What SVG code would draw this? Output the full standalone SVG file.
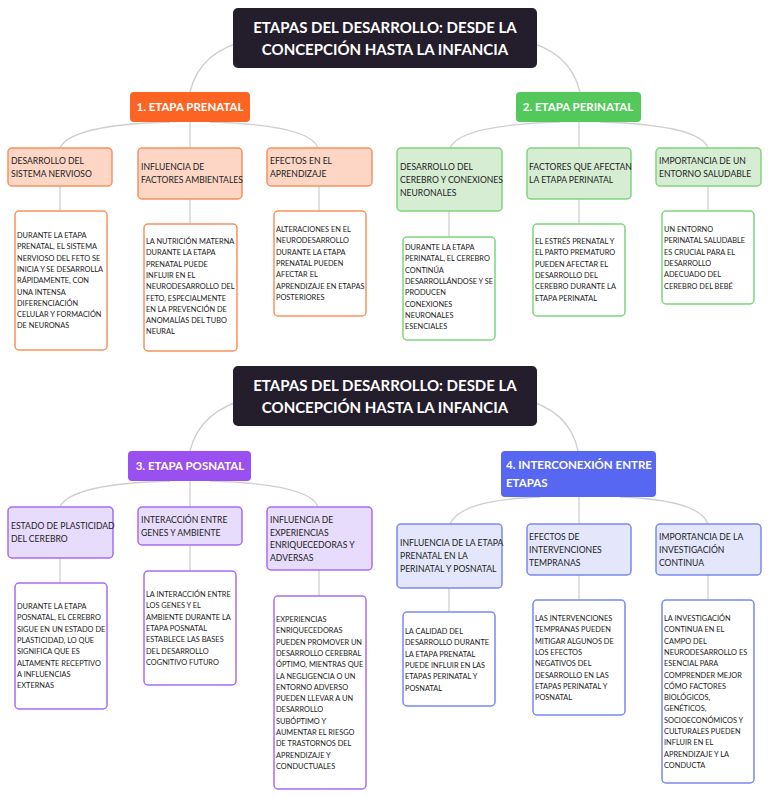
<svg xmlns="http://www.w3.org/2000/svg" width="768" height="797" viewBox="0 0 768 797">
<style>
text{font-family:Lato,"Noto Sans","Liberation Sans",sans-serif;fill:#222}
.t{font-size:15px;font-weight:bold;fill:#fff;text-anchor:middle}
.s{font-size:11.5px;font-weight:bold;fill:#fff}
.c{font-size:8.6px}
.d{font-size:7.4px}
.ln{fill:none;stroke:#cfcfcf;stroke-width:1.3}
.o1{fill:#fc6424}.o2{fill:#fdd6c6;stroke:#f8915f;stroke-width:1.5}.o3{fill:#fff;stroke:#f8915f;stroke-width:1.5}
.g1{fill:#52c95a}.g2{fill:#d6edd4;stroke:#7ed67b;stroke-width:1.5}.g3{fill:#fff;stroke:#7ed67b;stroke-width:1.5}
.p1{fill:#9a4ff0}.p2{fill:#e8dcfc;stroke:#a56ef2;stroke-width:1.5}.p3{fill:#fff;stroke:#a56ef2;stroke-width:1.5}
.b1{fill:#5867f2}.b2{fill:#e4e7fc;stroke:#7a88f2;stroke-width:1.5}.b3{fill:#fff;stroke:#7a88f2;stroke-width:1.5}
</style>
<rect width="768" height="797" fill="#fff"/>
<g id="connectors">
<path class="ln" d="M250 40 Q200 50 190 92"/><path class="ln" d="M520 40 Q570 50 580 92"/>
<path class="ln" d="M170 122 Q70 125 60 148"/><path class="ln" d="M190 122 V148"/><path class="ln" d="M210 122 Q310 125 318 148"/>
<path class="ln" d="M560 122 Q460 125 450 148"/><path class="ln" d="M579 122 V148"/><path class="ln" d="M600 122 Q700 125 708 148"/>
<path class="ln" d="M60 186 V211"/><path class="ln" d="M190 199 V224"/><path class="ln" d="M319 186 V211"/>
<path class="ln" d="M449 211 V237"/><path class="ln" d="M579 199 V224"/><path class="ln" d="M708 186 V211"/>
<path class="ln" d="M250 398 Q200 410 190 451"/><path class="ln" d="M520 398 Q570 410 578 451"/>
<path class="ln" d="M170 481 Q70 484 60 507"/><path class="ln" d="M190 481 V507"/><path class="ln" d="M210 481 Q310 484 318 507"/>
<path class="ln" d="M540 497 Q460 500 450 524"/><path class="ln" d="M579 497 V524"/><path class="ln" d="M620 497 Q700 500 708 524"/>
<path class="ln" d="M60 558 V583"/><path class="ln" d="M190 545 V571"/><path class="ln" d="M319 570 V596"/>
<path class="ln" d="M449 588 V612"/><path class="ln" d="M579 575 V600"/><path class="ln" d="M708 575 V600"/>
</g>
<g id="title1"><rect x="233" y="8" width="304" height="60" rx="5" fill="#231d2c"/><text class="t" x="385" y="33">ETAPAS DEL DESARROLLO: DESDE LA</text><text class="t" x="385" y="55">CONCEPCIÓN HASTA LA INFANCIA</text></g>
<g id="stage1"><rect class="o1" x="130" y="92" width="120" height="30" rx="4"/><text class="s" x="190" y="111" text-anchor="middle">1. ETAPA PRENATAL</text></g>
<g id="stage2"><rect class="g1" x="516" y="92" width="125" height="30" rx="4"/><text class="s" x="578" y="111" text-anchor="middle">2. ETAPA PERINATAL</text></g>
<g id="n1a"><rect class="o2" x="8" y="148" width="104" height="38" rx="4"/><text class="c"><tspan x="11" y="164">DESARROLLO DEL</tspan><tspan x="11" y="176.5">SISTEMA NERVIOSO</tspan></text></g>
<g id="n1b"><rect class="o2" x="138" y="148" width="104" height="51" rx="4"/><text class="c"><tspan x="141" y="170">INFLUENCIA DE</tspan><tspan x="141" y="183">FACTORES AMBIENTALES</tspan></text></g>
<g id="n1c"><rect class="o2" x="267" y="148" width="105" height="38" rx="4"/><text class="c"><tspan x="270" y="164">EFECTOS EN EL</tspan><tspan x="270" y="177">APRENDIZAJE</tspan></text></g>
<g id="d1a"><rect class="o3" x="15" y="211" width="92" height="139" rx="4"/><text class="d"><tspan x="17" y="238">DURANTE LA ETAPA</tspan><tspan x="17" y="249.3">PRENATAL, EL SISTEMA</tspan><tspan x="17" y="260.6">NERVIOSO DEL FETO SE</tspan><tspan x="17" y="271.9">INICIA Y SE DESARROLLA</tspan><tspan x="17" y="283.2">RÁPIDAMENTE, CON</tspan><tspan x="17" y="294.5">UNA INTENSA</tspan><tspan x="17" y="305.8">DIFERENCIACIÓN</tspan><tspan x="17" y="317.1">CELULAR Y FORMACIÓN</tspan><tspan x="17" y="328.4">DE NEURONAS</tspan></text></g>
<g id="d1b"><rect class="o3" x="144" y="224" width="93" height="127" rx="4"/><text class="d"><tspan x="146" y="244">LA NUTRICIÓN MATERNA</tspan><tspan x="146" y="255.3">DURANTE LA ETAPA</tspan><tspan x="146" y="266.6">PRENATAL PUEDE</tspan><tspan x="146" y="277.9">INFLUIR EN EL</tspan><tspan x="146" y="289.2">NEURODESARROLLO DEL</tspan><tspan x="146" y="300.5">FETO, ESPECIALMENTE</tspan><tspan x="146" y="311.8">EN LA PREVENCIÓN DE</tspan><tspan x="146" y="323.1">ANOMALÍAS DEL TUBO</tspan><tspan x="146" y="334.4">NEURAL</tspan></text></g>
<g id="d1c"><rect class="o3" x="274" y="211" width="92" height="105" rx="4"/><text class="d"><tspan x="276" y="232">ALTERACIONES EN EL</tspan><tspan x="276" y="243.3">NEURODESARROLLO</tspan><tspan x="276" y="254.6">DURANTE LA ETAPA</tspan><tspan x="276" y="265.9">PRENATAL PUEDEN</tspan><tspan x="276" y="277.2">AFECTAR EL</tspan><tspan x="276" y="288.5">APRENDIZAJE EN ETAPAS</tspan><tspan x="276" y="299.8">POSTERIORES</tspan></text></g>
<g id="n2a"><rect class="g2" x="397" y="148" width="105" height="63" rx="4"/><text class="c"><tspan x="400" y="170">DESARROLLO DEL</tspan><tspan x="400" y="183">CEREBRO Y CONEXIONES</tspan><tspan x="400" y="195.5">NEURONALES</tspan></text></g>
<g id="n2b"><rect class="g2" x="527" y="148" width="104" height="51" rx="4"/><text class="c"><tspan x="529" y="170">FACTORES QUE AFECTAN</tspan><tspan x="529" y="183">LA ETAPA PERINATAL</tspan></text></g>
<g id="n2c"><rect class="g2" x="656" y="148" width="105" height="38" rx="4"/><text class="c"><tspan x="659" y="164">IMPORTANCIA DE UN</tspan><tspan x="659" y="177">ENTORNO SALUDABLE</tspan></text></g>
<g id="d2a"><rect class="g3" x="403" y="237" width="92" height="103" rx="4"/><text class="d"><tspan x="405" y="250">DURANTE LA ETAPA</tspan><tspan x="405" y="261.3">PERINATAL, EL CEREBRO</tspan><tspan x="405" y="272.6">CONTINÚA</tspan><tspan x="405" y="283.9">DESARROLLÁNDOSE Y SE</tspan><tspan x="405" y="295.2">PRODUCEN</tspan><tspan x="405" y="306.5">CONEXIONES</tspan><tspan x="405" y="317.8">NEURONALES</tspan><tspan x="405" y="329.1">ESENCIALES</tspan></text></g>
<g id="d2b"><rect class="g3" x="533" y="224" width="92" height="92" rx="4"/><text class="d"><tspan x="535" y="244">EL ESTRÉS PRENATAL Y</tspan><tspan x="535" y="255.3">EL PARTO PREMATURO</tspan><tspan x="535" y="266.6">PUEDEN AFECTAR EL</tspan><tspan x="535" y="277.9">DESARROLLO DEL</tspan><tspan x="535" y="289.2">CEREBRO DURANTE LA</tspan><tspan x="535" y="300.5">ETAPA PERINATAL</tspan></text></g>
<g id="d2c"><rect class="g3" x="662" y="211" width="92" height="93" rx="4"/><text class="d"><tspan x="664" y="232">UN ENTORNO</tspan><tspan x="664" y="243.3">PERINATAL SALUDABLE</tspan><tspan x="664" y="254.6">ES CRUCIAL PARA EL</tspan><tspan x="664" y="265.9">DESARROLLO</tspan><tspan x="664" y="277.2">ADECUADO DEL</tspan><tspan x="664" y="288.5">CEREBRO DEL BEBÉ</tspan></text></g>
<g id="title2"><rect x="233" y="366" width="304" height="60" rx="5" fill="#231d2c"/><text class="t" x="385" y="391">ETAPAS DEL DESARROLLO: DESDE LA</text><text class="t" x="385" y="413">CONCEPCIÓN HASTA LA INFANCIA</text></g>
<g id="stage3"><rect class="p1" x="128" y="451" width="123" height="30" rx="4"/><text class="s" x="190" y="470" text-anchor="middle">3. ETAPA POSNATAL</text></g>
<g id="stage4"><rect class="b1" x="501" y="451" width="155" height="46" rx="4"/><text class="s"><tspan x="506" y="469">4. INTERCONEXIÓN ENTRE</tspan><tspan x="506" y="487">ETAPAS</tspan></text></g>
<g id="n3a"><rect class="p2" x="8" y="507" width="105" height="51" rx="4"/><text class="c"><tspan x="11" y="529">ESTADO DE PLASTICIDAD</tspan><tspan x="11" y="541.5">DEL CEREBRO</tspan></text></g>
<g id="n3b"><rect class="p2" x="138" y="507" width="104" height="38" rx="4"/><text class="c"><tspan x="141" y="523">INTERACCIÓN ENTRE</tspan><tspan x="141" y="535.5">GENES Y AMBIENTE</tspan></text></g>
<g id="n3c"><rect class="p2" x="267" y="507" width="105" height="63" rx="4"/><text class="c"><tspan x="270" y="523">INFLUENCIA DE</tspan><tspan x="270" y="535.5">EXPERIENCIAS</tspan><tspan x="270" y="548">ENRIQUECEDORAS Y</tspan><tspan x="270" y="560.5">ADVERSAS</tspan></text></g>
<g id="d3a"><rect class="p3" x="15" y="583" width="92" height="126" rx="4"/><text class="d"><tspan x="17" y="609">DURANTE LA ETAPA</tspan><tspan x="17" y="620.3">POSNATAL, EL CEREBRO</tspan><tspan x="17" y="631.6">SIGUE EN UN ESTADO DE</tspan><tspan x="17" y="642.9">PLASTICIDAD, LO QUE</tspan><tspan x="17" y="654.2">SIGNIFICA QUE ES</tspan><tspan x="17" y="665.5">ALTAMENTE RECEPTIVO</tspan><tspan x="17" y="676.8">A INFLUENCIAS</tspan><tspan x="17" y="688.1">EXTERNAS</tspan></text></g>
<g id="d3b"><rect class="p3" x="144" y="571" width="92" height="114" rx="4"/><text class="d"><tspan x="146" y="597">LA INTERACCIÓN ENTRE</tspan><tspan x="146" y="608.3">LOS GENES Y EL</tspan><tspan x="146" y="619.6">AMBIENTE DURANTE LA</tspan><tspan x="146" y="630.9">ETAPA POSNATAL</tspan><tspan x="146" y="642.2">ESTABLECE LAS BASES</tspan><tspan x="146" y="653.5">DEL DESARROLLO</tspan><tspan x="146" y="664.8">COGNITIVO FUTURO</tspan></text></g>
<g id="d3c"><rect class="p3" x="274" y="596" width="92" height="193" rx="4"/><text class="d"><tspan x="276" y="622">EXPERIENCIAS</tspan><tspan x="276" y="633.3">ENRIQUECEDORAS</tspan><tspan x="276" y="644.6">PUEDEN PROMOVER UN</tspan><tspan x="276" y="655.9">DESARROLLO CEREBRAL</tspan><tspan x="276" y="667.2">ÓPTIMO, MIENTRAS QUE</tspan><tspan x="276" y="678.5">LA NEGLIGENCIA O UN</tspan><tspan x="276" y="689.8">ENTORNO ADVERSO</tspan><tspan x="276" y="701.1">PUEDEN LLEVAR A UN</tspan><tspan x="276" y="712.4">DESARROLLO</tspan><tspan x="276" y="723.7">SUBÓPTIMO Y</tspan><tspan x="276" y="735">AUMENTAR EL RIESGO</tspan><tspan x="276" y="746.3">DE TRASTORNOS DEL</tspan><tspan x="276" y="757.6">APRENDIZAJE Y</tspan><tspan x="276" y="768.9">CONDUCTUALES</tspan></text></g>
<g id="n4a"><rect class="b2" x="397" y="524" width="105" height="64" rx="4"/><text class="c"><tspan x="400" y="546">INFLUENCIA DE LA ETAPA</tspan><tspan x="400" y="559">PRENATAL EN LA</tspan><tspan x="400" y="571.5">PERINATAL Y POSNATAL</tspan></text></g>
<g id="n4b"><rect class="b2" x="527" y="524" width="104" height="51" rx="4"/><text class="c"><tspan x="529" y="540">EFECTOS DE</tspan><tspan x="529" y="553">INTERVENCIONES</tspan><tspan x="529" y="565.5">TEMPRANAS</tspan></text></g>
<g id="n4c"><rect class="b2" x="656" y="524" width="105" height="51" rx="4"/><text class="c"><tspan x="659" y="540">IMPORTANCIA DE LA</tspan><tspan x="659" y="553">INVESTIGACIÓN</tspan><tspan x="659" y="565.5">CONTINUA</tspan></text></g>
<g id="d4a"><rect class="b3" x="403" y="612" width="92" height="94" rx="4"/><text class="d"><tspan x="405" y="634">LA CALIDAD DEL</tspan><tspan x="405" y="645.3">DESARROLLO DURANTE</tspan><tspan x="405" y="656.6">LA ETAPA PRENATAL</tspan><tspan x="405" y="667.9">PUEDE INFLUIR EN LAS</tspan><tspan x="405" y="679.2">ETAPAS PERINATAL Y</tspan><tspan x="405" y="690.5">POSNATAL</tspan></text></g>
<g id="d4b"><rect class="b3" x="533" y="600" width="92" height="115" rx="4"/><text class="d"><tspan x="535" y="621">LAS INTERVENCIONES</tspan><tspan x="535" y="632.3">TEMPRANAS PUEDEN</tspan><tspan x="535" y="643.6">MITIGAR ALGUNOS DE</tspan><tspan x="535" y="654.9">LOS EFECTOS</tspan><tspan x="535" y="666.2">NEGATIVOS DEL</tspan><tspan x="535" y="677.5">DESARROLLO EN LAS</tspan><tspan x="535" y="688.8">ETAPAS PERINATAL Y</tspan><tspan x="535" y="700.1">POSNATAL</tspan></text></g>
<g id="d4c"><rect class="b3" x="662" y="600" width="92" height="183" rx="4"/><text class="d"><tspan x="664" y="621">LA INVESTIGACIÓN</tspan><tspan x="664" y="632.3">CONTINUA EN EL</tspan><tspan x="664" y="643.6">CAMPO DEL</tspan><tspan x="664" y="654.9">NEURODESARROLLO ES</tspan><tspan x="664" y="666.2">ESENCIAL PARA</tspan><tspan x="664" y="677.5">COMPRENDER MEJOR</tspan><tspan x="664" y="688.8">CÓMO FACTORES</tspan><tspan x="664" y="700.1">BIOLÓGICOS,</tspan><tspan x="664" y="711.4">GENÉTICOS,</tspan><tspan x="664" y="722.7">SOCIOECONÓMICOS Y</tspan><tspan x="664" y="734">CULTURALES PUEDEN</tspan><tspan x="664" y="745.3">INFLUIR EN EL</tspan><tspan x="664" y="756.6">APRENDIZAJE Y LA</tspan><tspan x="664" y="767.9">CONDUCTA</tspan></text></g>
</svg>
